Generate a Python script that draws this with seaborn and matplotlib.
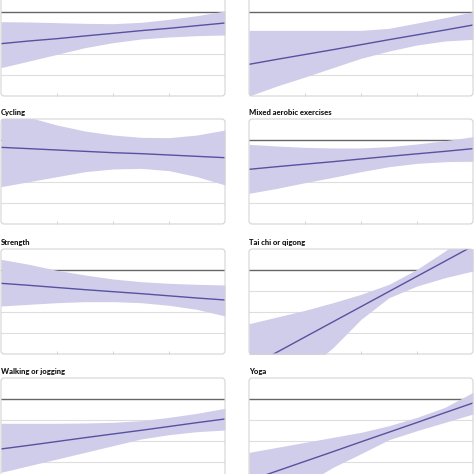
import pandas as pd
import matplotlib.pyplot as plt
import seaborn as sns
from matplotlib.patches import FancyBboxPatch

# --- Data (effect size vs dose) ---
dose = [0, 150, 300, 450, 600, 750, 900, 1050, 1200]

row1_left_fit = [-0.754, -0.690, -0.635, -0.570, -0.508, -0.444, -0.389, -0.325, -0.262]
row1_left_lo = [-1.325, -1.167, -1.008, -0.849, -0.730, -0.643, -0.595, -0.563, -0.548]
row1_left_hi = [-0.230, -0.238, -0.254, -0.270, -0.278, -0.246, -0.175, -0.087, 0.024]

row1_right_fit = [-1.246, -1.127, -1.012, -0.897, -0.778, -0.659, -0.544, -0.429, -0.310]
row1_right_lo = [-2.000, -1.762, -1.548, -1.325, -1.103, -0.929, -0.786, -0.690, -0.651]
row1_right_hi = [-0.437, -0.437, -0.437, -0.437, -0.437, -0.389, -0.262, -0.135, 0.008]

cycling_fit = [-0.175, -0.206, -0.238, -0.270, -0.302, -0.325, -0.357, -0.389, -0.421]
cycling_lo = [-1.111, -0.992, -0.873, -0.754, -0.690, -0.675, -0.730, -0.873, -1.071]
cycling_hi = [0.635, 0.540, 0.357, 0.214, 0.119, 0.063, 0.056, 0.119, 0.238]

mixed_fit = [-0.698, -0.635, -0.575, -0.516, -0.452, -0.389, -0.329, -0.270, -0.206]
mixed_lo = [-1.270, -1.151, -1.016, -0.889, -0.754, -0.635, -0.556, -0.516, -0.492]
mixed_hi = [-0.103, -0.143, -0.175, -0.190, -0.190, -0.159, -0.095, -0.016, 0.079]

strength_fit = [-0.317, -0.365, -0.417, -0.468, -0.516, -0.563, -0.615, -0.667, -0.714]
strength_lo = [-0.857, -0.817, -0.778, -0.754, -0.754, -0.778, -0.841, -0.937, -1.095]
strength_hi = [0.254, 0.135, -0.008, -0.119, -0.214, -0.278, -0.317, -0.341, -0.357]

taichi_fit = [-2.317, -1.957, -1.595, -1.234, -0.873, -0.512, -0.151, 0.210, 0.571]
taichi_lo = [-3.516, -2.960, -2.405, -1.849, -1.175, -0.659, -0.381, -0.183, -0.024]
taichi_hi = [-1.278, -1.119, -0.960, -0.778, -0.579, -0.341, 0.016, 0.452, 0.929]

walking_fit = [-1.190, -1.103, -1.012, -0.921, -0.833, -0.746, -0.655, -0.563, -0.476]
walking_lo = [-1.746, -1.587, -1.429, -1.270, -1.111, -0.952, -0.849, -0.778, -0.738]
walking_hi = [-0.579, -0.579, -0.579, -0.571, -0.556, -0.516, -0.437, -0.341, -0.222]

yoga_fit = [-1.944, -1.714, -1.484, -1.254, -1.020, -0.790, -0.560, -0.325, -0.095]
yoga_lo = [-2.817, -2.421, -2.024, -1.627, -1.302, -0.968, -0.754, -0.556, -0.357]
yoga_hi = [-1.270, -1.151, -1.032, -0.913, -0.794, -0.635, -0.437, -0.198, 0.159]

titles = [None, None, "Cycling", "Mixed aerobic exercises",
          "Strength", "Tai chi or qigong", "Walking or jogging", "Yoga"]
fits = [row1_left_fit, row1_right_fit, cycling_fit, mixed_fit,
        strength_fit, taichi_fit, walking_fit, yoga_fit]
lows = [row1_left_lo, row1_right_lo, cycling_lo, mixed_lo,
        strength_lo, taichi_lo, walking_lo, yoga_lo]
highs = [row1_left_hi, row1_right_hi, cycling_hi, mixed_hi,
         strength_hi, taichi_hi, walking_hi, yoga_hi]

# --- Style ---
sns.set_theme(style="white")
plt.rcParams['font.family'] = ['Lato', 'DejaVu Sans']

band_color = "#d0cdeb"
line_color = "#58519f"

fig = plt.figure(figsize=(4.74, 4.74), dpi=100)

# panel layout in pixels (figure is a crop of a bigger grid)
col_left_px = [1, 249]
row_top_px = [-9, 119, 249, 378]
panel_w, panel_h = 224, 105
W = H = 474

for i in range(len(fits)):
    r, c = divmod(i, 2)
    left = col_left_px[c] / W
    bottom = 1 - (row_top_px[r] + panel_h) / H
    ax = fig.add_axes([left, bottom, panel_w / W, panel_h / H])

    df = pd.DataFrame({'dose': dose, 'g': fits[i]})

    for gy in [-0.5, -1.0, -1.5]:
        ax.axhline(gy, color="#dedede", lw=0.8, zorder=0)
    ax.axhline(0, color="#666666", lw=1.0, zorder=1)
    ax.fill_between(dose, lows[i], highs[i], color=band_color, lw=0, zorder=2)
    sns.lineplot(data=df, x='dose', y='g', color=line_color, lw=1.0, ax=ax, zorder=3)

    ax.set_xlim(0, 1200)
    ax.set_ylim(-2.0, 0.5)
    ax.set_xticks([300, 600, 900])
    ax.set_xticklabels([])
    ax.set_yticks([])
    ax.tick_params(axis='x', direction='in', length=2.5, width=0.6,
                   color="#cccccc", bottom=True)
    ax.set_xlabel("")
    ax.set_ylabel("")
    for s in ax.spines.values():
        s.set_visible(False)

    frame = FancyBboxPatch((0, 0), 1, 1, boxstyle="round,pad=0,rounding_size=0.014",
                           mutation_aspect=panel_w / panel_h, transform=ax.transAxes,
                           fill=False, ec="#d4d4d4", lw=0.8, clip_on=False, zorder=4)
    ax.add_patch(frame)

    if titles[i]:
        ax.set_title(titles[i], loc='left', fontsize=5.5, fontweight='black',
                     color="#111111", pad=3)

fig.savefig("out.png", dpi=100)
